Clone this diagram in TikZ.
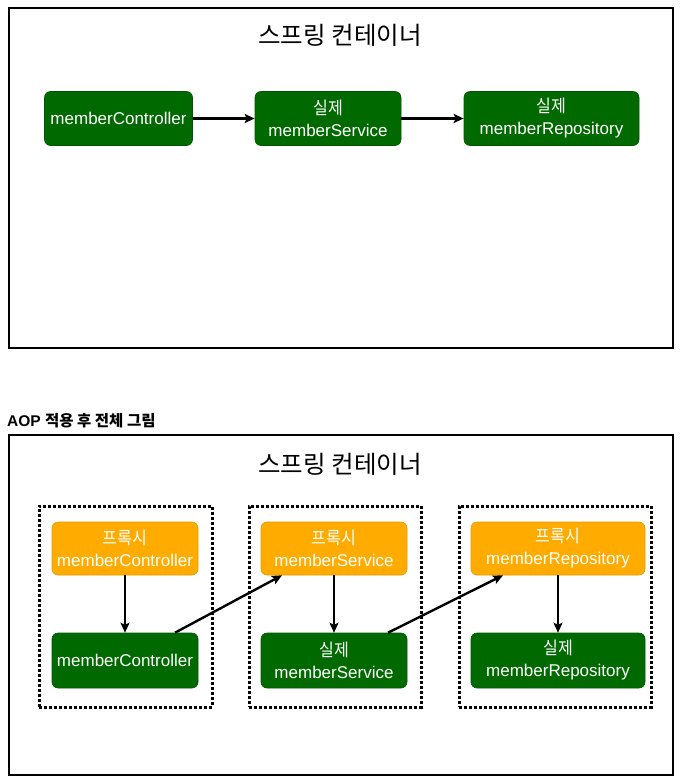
\documentclass[tikz,border=0pt]{standalone}
\usepackage{fontspec}
\setmainfont{Liberation Sans}
\newfontfamily\kr{Noto Sans CJK KR}
\newfontfamily\krn{Noto Sans CJK KR}[FakeStretch=0.92]
\usetikzlibrary{arrows.meta}
\definecolor{realgreen}{HTML}{006A00}
\definecolor{proxyorange}{HTML}{FFAB00}
\tikzset{
  frame/.style={draw=black, line width=2.8pt},
  title/.style={font=\kr\fontsize{24.5}{28}\selectfont},
  realbox/.style={fill=realgreen, draw=realgreen!80!black, line width=0.6pt, rounded corners=6pt, text=white, align=center, minimum height=54pt, inner sep=0pt, font=\fontsize{17}{22}\selectfont},
  proxybox/.style={fill=proxyorange, draw=proxyorange!90!black, line width=0.6pt, rounded corners=6pt, text=white, align=center, minimum height=53pt, inner sep=0pt, font=\fontsize{17}{22}\selectfont},
  dotbox/.style={draw=black, line width=3pt, dash pattern=on 3pt off 2pt},
  conn/.style={draw=black, line width=2.4pt, -{Stealth[length=10pt,width=9pt,inset=2pt]}},
}
\begin{document}
\begin{tikzpicture}[x=1pt,y=-1pt]
\useasboundingbox (0,0) rectangle (682,784);
% top frame
\node[frame, minimum width=664pt, minimum height=340pt, inner sep=0pt] (top) at (341,178) {};
\node[title] (t1) at (340,35) {스프링 컨테이너};
\node[realbox, minimum width=148pt] (c1) at (118.5,118.5) {memberController};
\node[realbox, minimum width=146pt] (s1) at (328,118.5) {{\krn\fontsize{17.5}{22}\selectfont 실제}\\memberService};
\node[realbox, minimum width=175pt] (r1) at (551.5,118.5) {{\krn\fontsize{17.5}{22}\selectfont 실제}\\memberRepository};
\draw[conn] (c1.east) -- (s1.west);
\draw[conn] (s1.east) -- (r1.west);

% heading
\node[anchor=west, inner sep=0pt, font=\bfseries\fontsize{15.5}{18}\selectfont] (hd) at (7,421) {AOP {\kr\bfseries 적용 후 전체 그림}};

% bottom frame
\node[frame, minimum width=664pt, minimum height=340pt, inner sep=0pt] (bot) at (341,605) {};
\node[title] (t2) at (340,464) {스프링 컨테이너};

\node[dotbox, minimum width=173pt, minimum height=201pt, inner sep=0pt] (d1) at (125.5,606.5) {};
\node[dotbox, minimum width=172pt, minimum height=201pt, inner sep=0pt] (d2) at (335,606.5) {};
\node[dotbox, minimum width=192pt, minimum height=201pt, inner sep=0pt] (d3) at (555,606.5) {};

\node[proxybox, minimum width=146pt] (p1) at (125,548.5) {{\krn\fontsize{17.5}{22}\selectfont 프록시}\\memberController};
\node[proxybox, minimum width=146pt] (p2) at (334,548.5) {{\krn\fontsize{17.5}{22}\selectfont 프록시}\\memberService};
\node[proxybox, minimum width=174pt] (p3) at (558,548.5) {{\krn\fontsize{17.5}{22}\selectfont 프록시}\\memberRepository};

\node[realbox, minimum width=146pt, minimum height=55pt] (g1) at (125,660.5) {memberController};
\node[realbox, minimum width=146pt, minimum height=55pt] (g2) at (334,660.5) {{\krn\fontsize{17.5}{22}\selectfont 실제}\\memberService};
\node[realbox, minimum width=174pt, minimum height=55pt] (g3) at (558,660.5) {{\krn\fontsize{17.5}{22}\selectfont 실제}\\memberRepository};

\draw[conn] (p1.south) -- (g1.north);
\draw[conn] (p2.south) -- (g2.north);
\draw[conn] (p3.south) -- (g3.north);
\draw[conn] ([xshift=50pt]g1.north) -- ([xshift=-52pt]p2.south);
\draw[conn] ([xshift=54pt]g2.north) -- ([xshift=-55pt]p3.south);
\end{tikzpicture}
\end{document}
